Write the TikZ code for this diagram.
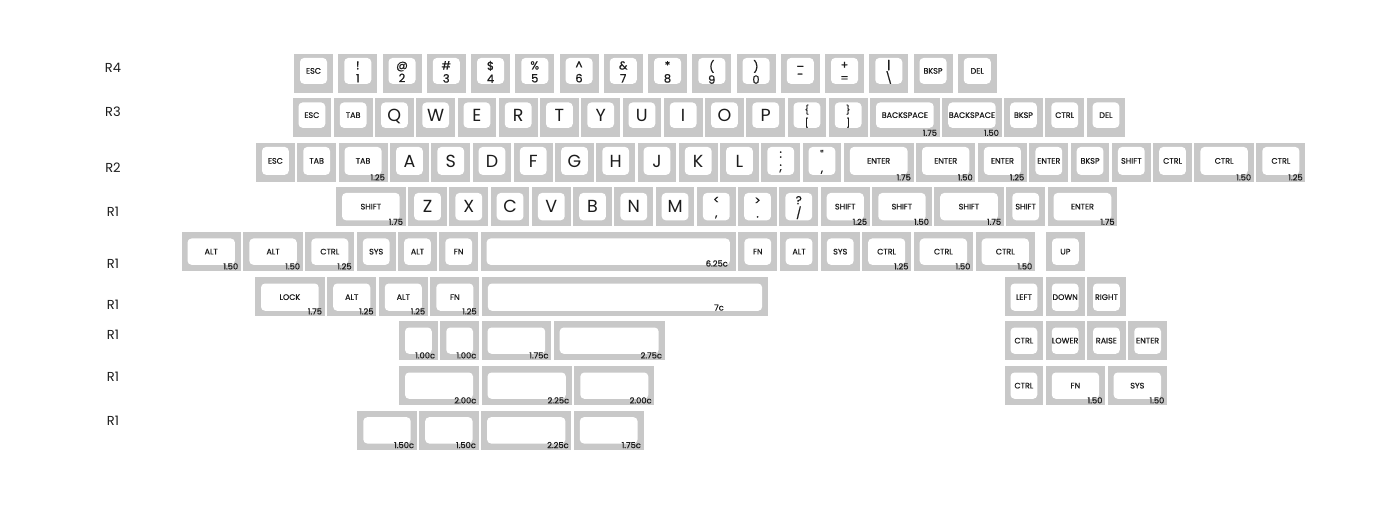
\documentclass[tikz,border=0pt]{standalone}
\usepackage{fontspec}
\setmainfont{Poppins}
\newfontfamily\medfont[FakeBold=0.7]{Poppins}
\definecolor{capgray}{RGB}{200,200,200}
\definecolor{ink}{RGB}{28,28,28}
\def\kh{38.8}
\newcommand\startrow[6]{\gdef\rx{#1}\gdef\ry{#2}\gdef\rt{#3}\gdef\rb{#4}\gdef\ru{#5}\gdef\rg{#6}}
\newcommand\keycap[8]{%
  \fill[capgray] (#3,#4) rectangle ++(#5,\kh);
  \fill[white,rounded corners=4] (#3+6,#4+#6) rectangle (#3+#5-6,#4+\kh-#7);
  \node[legend,#1] (#2) at (#3+#5/2, #4+#6/2+\kh/2-#7/2) {#8};
}
\newcommand\kk[5][one]{%
  \pgfmathsetmacro\kw{#3*\ru-\rg}%
  \keycap{#1}{#2}{\rx}{\ry}{\kw}{\rt}{\rb}{#4}%
  \if\relax\detokenize{#5}\relax\else
    \node[sizelab] (#2-s) at (\rx+\kw-2.5, \ry+\kh-1.4) {#5};
  \fi
  \pgfmathsetmacro\nx{\rx+#3*\ru}\global\let\rx\nx
}
\tikzset{
  legend/.style={text=ink, inner sep=0pt, align=center},
  one/.style={font=\medfont\fontsize{8}{9}\selectfont, text height=5.6pt, text depth=0pt},
  big/.style={font=\fontsize{17.5}{20}\selectfont, text height=12.3pt, text depth=0pt},
  two/.style={font=\medfont\fontsize{11.5}{13}\selectfont, yshift=-1pt},
  twosm/.style={font=\medfont\fontsize{9}{13}\selectfont, yshift=-1pt},
  sizelab/.style={font=\medfont\fontsize{8.3}{9}\selectfont, text=ink, inner sep=0pt, anchor=base east},
  rowlab/.style={font=\fontsize{13}{15}\selectfont, text=ink, inner sep=0pt}
}
\begin{document}
\begin{tikzpicture}[x=1pt,y=-1pt]
\useasboundingbox (0,0) rectangle (1400,505);
% row labels
\node[rowlab] (l1) at (113,68) {R4};
\node[rowlab] (l2) at (113,112) {R3};
\node[rowlab] (l3) at (113,168) {R2};
\node[rowlab] (l4) at (113,212) {R1};
\node[rowlab] (l5) at (113,264) {R1};
\node[rowlab] (l6) at (113,305) {R1};
\node[rowlab] (l7) at (113,335) {R1};
\node[rowlab] (l8) at (113,377) {R1};
\node[rowlab] (l9) at (113,421) {R1};
% R4
\startrow{294}{54}{4}{9}{44.25}{5.25}
\kk{a1}{1}{ESC}{}
\kk[two]{a2}{1}{!\\1}{}
\kk[two]{a3}{1}{@\\2}{}
\kk[two]{a4}{1}{\#\\3}{}
\kk[two]{a5}{1}{\$\\4}{}
\kk[two]{a6}{1}{\%\\5}{}
\kk[two]{a7}{1}{\textasciicircum\\6}{}
\kk[two]{a8}{1}{\&\\7}{}
\kk[two]{a9}{1}{*\\8}{}
\kk[two]{a10}{1}{(\\9}{}
\kk[two]{a11}{1}{)\\0}{}
\kk[two]{a12}{1}{\_\\-}{}
\kk[two]{a13}{1}{+\\=}{}
\kk[two]{a14}{1}{|\\\textbackslash}{}
\kk{a15}{1}{BKSP}{}
\kk{a16}{1}{DEL}{}
% R3
\startrow{292.5}{98.5}{4}{9.5}{41.25}{2.5}
\kk{b1}{1}{ESC}{}
\kk{b2}{1}{TAB}{}
\kk[big]{b3}{1}{Q}{}
\kk[big]{b4}{1}{W}{}
\kk[big]{b5}{1}{E}{}
\kk[big]{b6}{1}{R}{}
\kk[big]{b7}{1}{T}{}
\kk[big]{b8}{1}{Y}{}
\kk[big]{b9}{1}{U}{}
\kk[big]{b10}{1}{I}{}
\kk[big]{b11}{1}{O}{}
\kk[big]{b12}{1}{P}{}
\kk[twosm]{b13}{1}{\{\\{[}}{}
\kk[twosm]{b14}{1}{\}\\{]}}{}
\kk{b15}{1.75}{BACKSPACE}{1.75}
\kk{b16}{1.5}{BACKSPACE}{1.50}
\kk{b17}{1}{BKSP}{}
\kk{b18}{1}{CTRL}{}
\kk{b19}{1}{DEL}{}
% R2
\startrow{256}{143}{4}{7}{41.25}{2.5}
\kk{c1}{1}{ESC}{}
\kk{c2}{1}{TAB}{}
\kk{c3}{1.25}{TAB}{1.25}
\kk[big]{c4}{1}{A}{}
\kk[big]{c5}{1}{S}{}
\kk[big]{c6}{1}{D}{}
\kk[big]{c7}{1}{F}{}
\kk[big]{c8}{1}{G}{}
\kk[big]{c9}{1}{H}{}
\kk[big]{c10}{1}{J}{}
\kk[big]{c11}{1}{K}{}
\kk[big]{c12}{1}{L}{}
\kk[two]{c13}{1}{:\\;}{}
\kk[two]{c14}{1}{"\\,}{}
\kk{c15}{1.75}{ENTER}{1.75}
\kk{c16}{1.5}{ENTER}{1.50}
\kk{c17}{1.25}{ENTER}{1.25}
\kk{c18}{1}{ENTER}{}
\kk{c19}{1}{BKSP}{}
\kk{c20}{1}{SHIFT}{}
\kk{c21}{1}{CTRL}{}
\kk{c22}{1.5}{CTRL}{1.50}
\kk{c23}{1.25}{CTRL}{1.25}
% R1
\startrow{336}{187.5}{5.5}{6}{41.25}{2.5}
\kk{d1}{1.75}{SHIFT}{1.75}
\kk[big]{d2}{1}{Z}{}
\kk[big]{d3}{1}{X}{}
\kk[big]{d4}{1}{C}{}
\kk[big]{d5}{1}{V}{}
\kk[big]{d6}{1}{B}{}
\kk[big]{d7}{1}{N}{}
\kk[big]{d8}{1}{M}{}
\kk[two]{d9}{1}{<\\,}{}
\kk[two]{d10}{1}{>\\.}{}
\kk[two]{d11}{1}{?\\/}{}
\kk{d12}{1.25}{SHIFT}{1.25}
\kk{d13}{1.5}{SHIFT}{1.50}
\kk{d14}{1.75}{SHIFT}{1.75}
\kk{d15}{1}{SHIFT}{}
\kk{d16}{1.75}{ENTER}{1.75}
% bottom row
\startrow{181.5}{232}{6.5}{6}{41.25}{2.5}
\kk{e1}{1.5}{ALT}{1.50}
\kk{e2}{1.5}{ALT}{1.50}
\kk{e3}{1.25}{CTRL}{1.25}
\kk{e4}{1}{SYS}{}
\kk{e5}{1}{ALT}{}
\kk{e6}{1}{FN}{}
\kk{e7}{6.25}{}{}
\node[sizelab] (e7-s) at (728,266.5) {6.25c};
\kk{e8}{1}{FN}{}
\kk{e9}{1}{ALT}{}
\kk{e10}{1}{SYS}{}
\kk{e11}{1.25}{CTRL}{1.25}
\kk{e12}{1.5}{CTRL}{1.50}
\kk{e13}{1.5}{CTRL}{1.50}
\gdef\rx{1046}
\kk{e14}{1}{UP}{}
% row 6
\startrow{255}{277}{6.5}{5}{41.25}{2.5}
\kk{f1}{1.75}{LOCK}{1.75}
\kk{f2}{1.25}{ALT}{1.25}
\kk{f3}{1.25}{ALT}{1.25}
\kk{f4}{1.25}{FN}{1.25}
\kk{f5}{7}{}{}
\node[sizelab] (f5-s) at (724,310.5) {7c};
\gdef\rx{1004.5}
\kk{f6}{1}{LEFT}{}
\kk{f7}{1}{DOWN}{}
\kk{f8}{1}{RIGHT}{}
% row 7
\startrow{399}{321}{6.5}{6}{41.25}{2.5}
\kk{g1}{1}{}{1.00c}
\kk{g2}{1}{}{1.00c}
\kk{g3}{1.75}{}{1.75c}
\kk{g4}{2.75}{}{2.75c}
\gdef\rx{1004.5}
\kk{g5}{1}{CTRL}{}
\kk{g6}{1}{LOWER}{}
\kk{g7}{1}{RAISE}{}
\kk{g8}{1}{ENTER}{}
% row 8
\startrow{399}{366}{6.5}{6}{41.25}{2.5}
\kk{h1}{2}{}{2.00c}
\kk{h2}{2.25}{}{2.25c}
\kk{h3}{2}{}{2.00c}
\gdef\rx{1004.5}
\kk{h4}{1}{CTRL}{}
\kk{h5}{1.5}{FN}{1.50}
\kk{h6}{1.5}{SYS}{1.50}
% row 9
\startrow{357.3}{410.7}{6.5}{6}{41.25}{2.5}
\kk{i1}{1.5}{}{1.50c}
\kk{i2}{1.5}{}{1.50c}
\kk{i3}{2.25}{}{2.25c}
\kk{i4}{1.75}{}{1.75c}
\end{tikzpicture}
\end{document}
